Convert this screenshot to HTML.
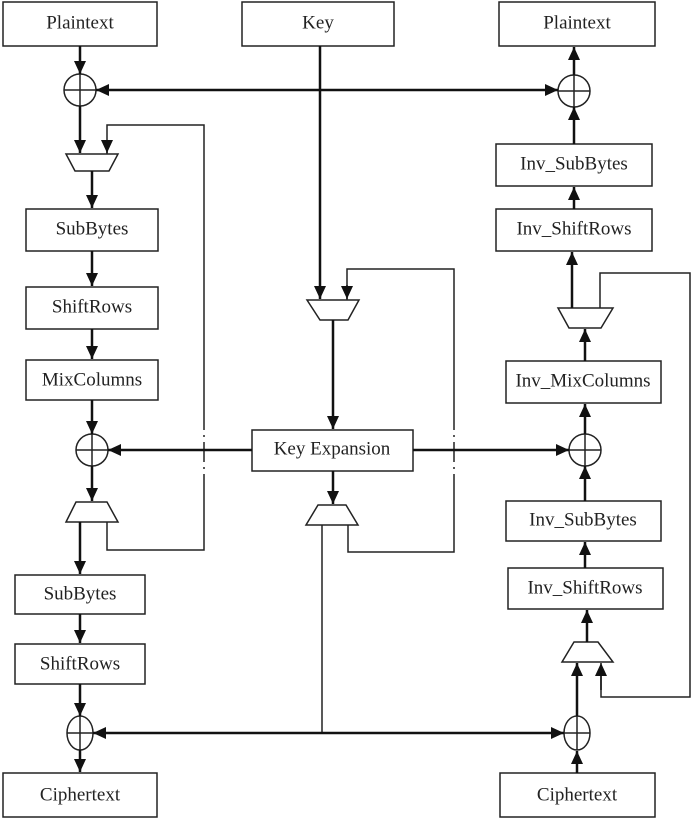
<!DOCTYPE html>
<html><head><meta charset="utf-8"><style>
html,body{margin:0;padding:0;background:#fff}
svg{display:block}
text{font-family:"Liberation Serif",serif;font-size:19px;fill:#222;text-anchor:middle;dominant-baseline:central}
</style></head><body>
<svg width="700" height="820" viewBox="0 0 700 820" xmlns="http://www.w3.org/2000/svg">
<defs>
<marker id="a" markerUnits="userSpaceOnUse" markerWidth="14" markerHeight="14" refX="13" refY="6" orient="auto"><path d="M0,0 L13,6 L0,12 Z" fill="#111"/></marker>
</defs>
<g fill="none" stroke="#222" stroke-width="1.5">
<rect x="3" y="2" width="154" height="44"/>
<rect x="242" y="2" width="152" height="44"/>
<rect x="499" y="2" width="156" height="44"/>
<rect x="26" y="209" width="132" height="42"/>
<rect x="26" y="287" width="132" height="42"/>
<rect x="26" y="360" width="132" height="40"/>
<rect x="15" y="575" width="130" height="39"/>
<rect x="15" y="644" width="130" height="40"/>
<rect x="3" y="773" width="154" height="44"/>
<rect x="252" y="430" width="161" height="41"/>
<rect x="496" y="144" width="156" height="42"/>
<rect x="496" y="209" width="156" height="42"/>
<rect x="506" y="361" width="155" height="42"/>
<rect x="506" y="501" width="155" height="40"/>
<rect x="508" y="568" width="155" height="41"/>
<rect x="500" y="773" width="155" height="44"/>
<circle cx="80" cy="90" r="16"/><path d="M64,90H96M80,74V106"/>
<circle cx="92" cy="450" r="16"/><path d="M76,450H108M92,434V466"/>
<ellipse cx="80" cy="733" rx="13" ry="17"/><path d="M67,733H93M80,716V750"/>
<circle cx="574" cy="91" r="16"/><path d="M558,91H590M574,75V107"/>
<circle cx="585" cy="450" r="16"/><path d="M569,450H601M585,434V466"/>
<ellipse cx="577" cy="733" rx="13" ry="17"/><path d="M564,733H590M577,716V750"/>
<path d="M66,154H118L109,171H75Z"/>
<path d="M76,502H107L118,522H66Z"/>
<path d="M307,300H359L348,320H320Z"/>
<path d="M318,505H346L358,525H306Z"/>
<path d="M558,308H613L601,328H569Z"/>
<path d="M574,642H598L613,662H562Z"/>
<path d="M107,154V125H204V410"/>
<path d="M204,410V485" stroke-dasharray="20,5,2,5"/>
<path d="M204,485V550H107V522"/>
<path d="M347,300V269H454V410"/>
<path d="M454,410V485" stroke-dasharray="20,5,2,5"/>
<path d="M454,485V552H348V525"/>
<path d="M322,525V733"/>
<path d="M600,308V273H690V697H601V676"/>
</g>
<g fill="none" stroke="#111" stroke-width="2.5">
<path d="M80,46V74" marker-end="url(#a)"/>
<path d="M80,106V153" marker-end="url(#a)"/>
<path d="M107,140V153" stroke-width="1.5" marker-end="url(#a)"/>
<path d="M92,171V208" marker-end="url(#a)"/>
<path d="M92,251V286" marker-end="url(#a)"/>
<path d="M92,329V359" marker-end="url(#a)"/>
<path d="M92,400V434" marker-end="url(#a)"/>
<path d="M92,466V501" marker-end="url(#a)"/>
<path d="M80,522V574" marker-end="url(#a)"/>
<path d="M80,614V643" marker-end="url(#a)"/>
<path d="M80,684V716" marker-end="url(#a)"/>
<path d="M80,750V772" marker-end="url(#a)"/>
<path d="M320,46V299" marker-end="url(#a)"/>
<path d="M347,285V299" stroke-width="1.5" marker-end="url(#a)"/>
<path d="M333,320V429" marker-end="url(#a)"/>
<path d="M333,471V504" marker-end="url(#a)"/>
<path d="M252,450H108" marker-end="url(#a)"/>
<path d="M413,450H569" marker-end="url(#a)"/>
<path d="M320,90H96" marker-end="url(#a)"/>
<path d="M320,90H558" marker-end="url(#a)"/>
<path d="M322,733H93" marker-end="url(#a)"/>
<path d="M322,733H564" marker-end="url(#a)"/>
<path d="M574,75V47" marker-end="url(#a)"/>
<path d="M574,144V107" marker-end="url(#a)"/>
<path d="M574,209V187" marker-end="url(#a)"/>
<path d="M572,308V252" marker-end="url(#a)"/>
<path d="M585,361V329" marker-end="url(#a)"/>
<path d="M585,434V404" marker-end="url(#a)"/>
<path d="M585,501V466" marker-end="url(#a)"/>
<path d="M585,568V542" marker-end="url(#a)"/>
<path d="M587,642V610" marker-end="url(#a)"/>
<path d="M577,716V663" marker-end="url(#a)"/>
<path d="M601,690V663" stroke-width="1.5" marker-end="url(#a)"/>
<path d="M577,773V751" marker-end="url(#a)"/>
</g>
<text x="80" y="23">Plaintext</text>
<text x="318" y="23">Key</text>
<text x="577" y="23">Plaintext</text>
<text x="92" y="229">SubBytes</text>
<text x="92" y="307">ShiftRows</text>
<text x="92" y="380">MixColumns</text>
<text x="80" y="594">SubBytes</text>
<text x="80" y="664">ShiftRows</text>
<text x="80" y="795">Ciphertext</text>
<text x="332" y="449">Key Expansion</text>
<text x="574" y="164">Inv_SubBytes</text>
<text x="574" y="229">Inv_ShiftRows</text>
<text x="583" y="381">Inv_MixColumns</text>
<text x="583" y="520">Inv_SubBytes</text>
<text x="585" y="588">Inv_ShiftRows</text>
<text x="577" y="795">Ciphertext</text>
</svg>
</body></html>
